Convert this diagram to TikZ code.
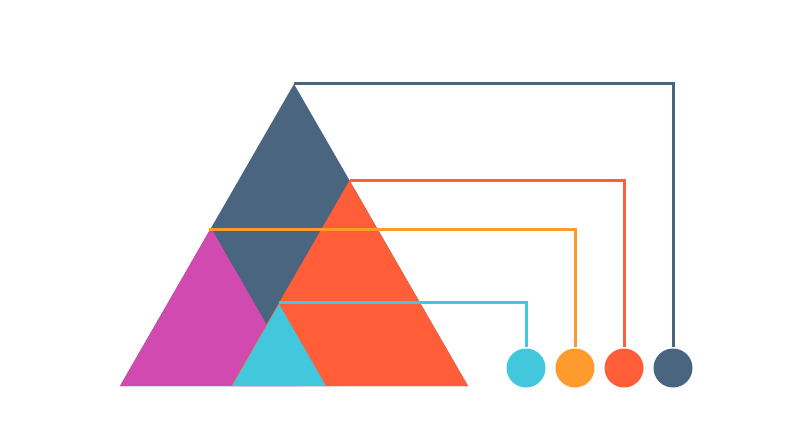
\documentclass[tikz,border=0pt]{standalone}
\usepackage{tikz}
\definecolor{slate}{RGB}{74,101,128}
\definecolor{pink}{RGB}{208,74,175}
\definecolor{coral}{RGB}{255,94,56}
\definecolor{sky}{RGB}{67,199,221}
\definecolor{amber}{RGB}{255,155,46}
\begin{document}
\begin{tikzpicture}[x=1pt,y=-1pt,line width=3pt,dot/.style={circle,inner sep=0pt,minimum size=39pt}]
\useasboundingbox (0,0) rectangle (800,445);
\fill[slate] (120,386) -- (294,84) -- (468,386) -- cycle;
\fill[pink] (120,386) -- (211,228) -- (302,386) -- cycle;
\fill[coral] (231,386) -- (349.5,180.5) -- (468,386) -- cycle;
\fill[sky] (232,386) -- (279,304) -- (326,386) -- cycle;
\coordinate (top) at (294,83);
\coordinate (mid) at (350,180);
\coordinate (left) at (209,229);
\coordinate (low) at (279,302);
\node[dot,fill=sky] (c1) at (526,368) {};
\node[dot,fill=amber] (c2) at (575,368) {};
\node[dot,fill=coral] (c3) at (624,368) {};
\node[dot,fill=slate] (c4) at (673,368) {};
\draw[slate] (top) -| (c4);
\draw[coral] (mid) -| (c3);
\draw[amber] (left) -| (c2);
\draw[sky] (low) -| (c1);
\end{tikzpicture}
\end{document}
